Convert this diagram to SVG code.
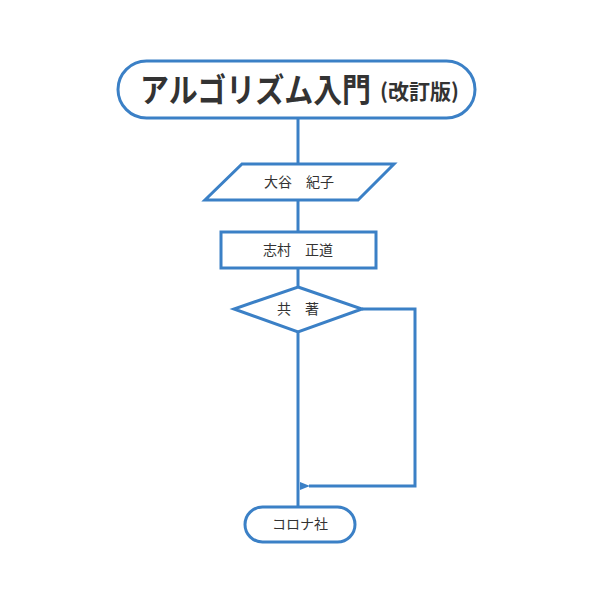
<svg xmlns="http://www.w3.org/2000/svg" width="600" height="600" viewBox="0 0 600 600">
<defs>
<style>
.s{fill:#fff;stroke:#3b80c6;stroke-width:3}
.c{fill:none;stroke:#3b80c6;stroke-width:3}
.t{font-family:"Noto Sans CJK JP","Noto Sans",sans-serif;fill:#333;text-anchor:middle;font-size:14px}
.h{font-family:"Noto Sans CJK JP","Noto Sans",sans-serif;font-weight:bold;fill:#333}
</style>
<marker id="ah" markerWidth="10" markerHeight="10" refX="1" refY="5" orient="auto" markerUnits="userSpaceOnUse">
<path d="M10,1 L0,5 L10,9 Z" fill="#3b80c6"/>
</marker>
</defs>
<rect width="600" height="600" fill="#fff"/>
<g id="connectors">
<line class="c" x1="298" y1="118" x2="298" y2="164"/>
<line class="c" x1="298" y1="200" x2="298" y2="232"/>
<line class="c" x1="298" y1="268" x2="298" y2="287"/>
<line class="c" x1="298" y1="332" x2="298" y2="507"/>
<polyline class="c" points="362,309 415,309 415,486 309,486" marker-end="url(#ah)"/>
</g>
<g id="title">
<rect class="s" x="118" y="61" width="357" height="57" rx="28.5"/>
<text class="h" transform="translate(140,102) scale(1,1.15)" x="0" y="0" font-size="29">アルゴリズム入門</text>
<text class="h" x="380" y="99" font-size="21">(改訂版)</text>
</g>
<g id="author1">
<polygon class="s" points="242,164 394,164 358,200 205,200"/>
<text class="t" x="299" y="187">大谷　紀子</text>
</g>
<g id="author2">
<rect class="s" x="221" y="232" width="155" height="36"/>
<text class="t" x="298" y="255">志村　正道</text>
</g>
<g id="coauthor">
<polygon class="s" points="298,287 362,309 298,332 234,309"/>
<text class="t" x="298" y="314">共　著</text>
</g>
<g id="publisher">
<rect class="s" x="245" y="507" width="110" height="35" rx="17.5"/>
<text class="t" x="300" y="529">コロナ社</text>
</g>
</svg>
